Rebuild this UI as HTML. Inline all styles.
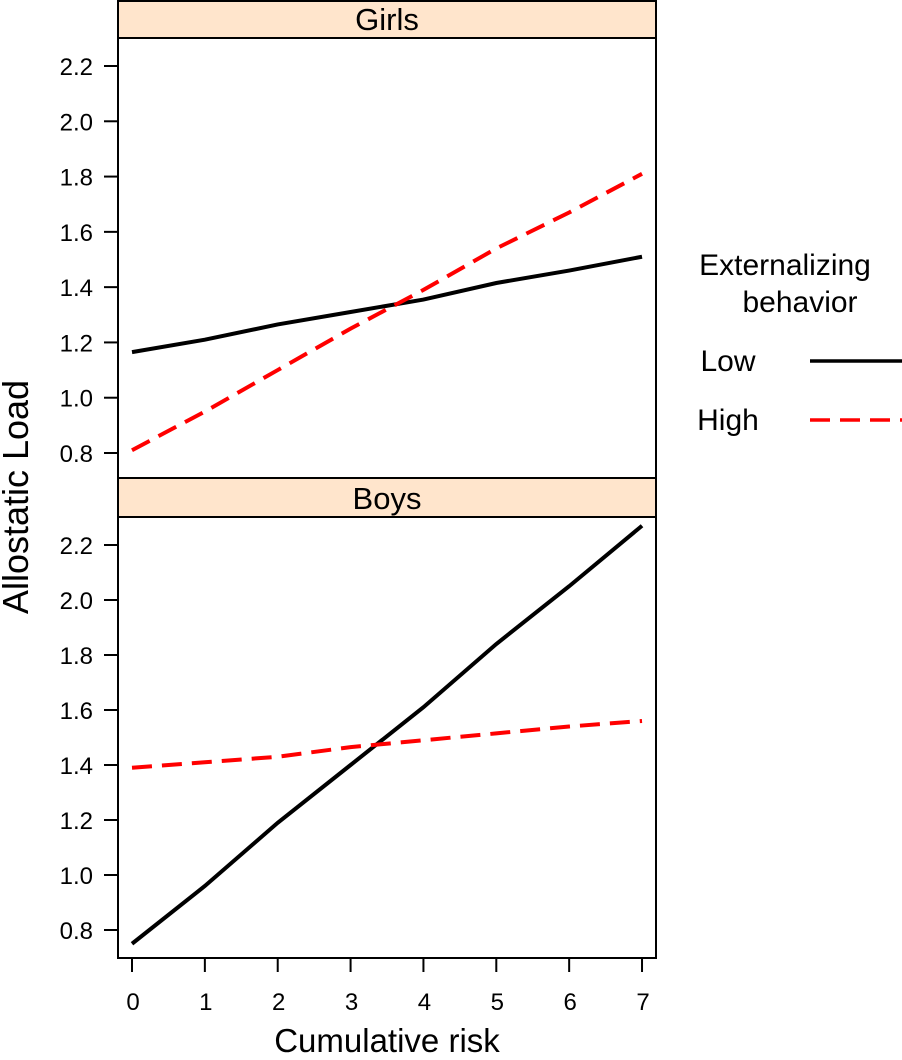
<!DOCTYPE html>
<html><head><meta charset="utf-8"><style>
body{margin:0;background:#fff}
svg text{font-family:"Liberation Sans",Arial,sans-serif;fill:#000}
</style></head><body>
<svg width="902" height="1055" viewBox="0 0 902 1055" id="c">
<text x="16" y="497" font-size="36" text-anchor="middle" transform="rotate(-90 16 497)" dy="12">Allostatic Load</text>
<text x="387" y="1052" font-size="33" text-anchor="middle">Cumulative risk</text>
<g>
<text x="785" y="275" font-size="30" text-anchor="middle">Externalizing</text>
<text x="800" y="312" font-size="30" text-anchor="middle">behavior</text>
<text x="728" y="371" font-size="30" text-anchor="middle">Low</text>
<line x1="810" y1="361" x2="902" y2="361" stroke="#000" stroke-width="3.5"/>
<text x="728" y="430" font-size="30" text-anchor="middle">High</text>
<line x1="810" y1="420" x2="902" y2="420" stroke="#f00" stroke-width="3.5" stroke-dasharray="20,10"/>
</g>
</svg>
<script>
const xVals=[0,1,2,3,4,5,6,7];
const girlsLow=[1.165,1.21,1.265,1.31,1.355,1.415,1.46,1.51];
const girlsHigh=[0.81,0.95,1.10,1.25,1.39,1.54,1.67,1.81];
const boysLow=[0.75,0.96,1.19,1.40,1.61,1.84,2.05,2.27];
const boysHigh=[1.39,1.41,1.43,1.465,1.49,1.515,1.54,1.56];
const yTicks=[0.8,1.0,1.2,1.4,1.6,1.8,2.0,2.2];
const xTicks=[0,1,2,3,4,5,6,7];
const NS='http://www.w3.org/2000/svg';
const svg=document.getElementById('c');
const L=118,R=656;
const xs=v=>132+v*72.86;
function mk(t,a,p){const e=document.createElementNS(NS,t);for(const k in a)e.setAttribute(k,a[k]);(p||svg).appendChild(e);return e;}
function panel(name,stripTop,top,bottom,y22,y08,low,high){
  const ys=v=>y08+(v-0.8)*(y22-y08)/1.4;
  const g=mk('g',{});
  
  
  const s=mk('rect',{x:L,y:stripTop,width:R-L,height:top-stripTop,fill:'#ffe5cc',stroke:'#000','stroke-width':2},g);
  
  
  const t=mk('text',{x:(L+R)/2,y:top-8,'font-size':31,'text-anchor':'middle'},g);
  t.textContent=name==='girls'?'Girls':'Boys';
  
  
  const b=mk('rect',{x:L,y:top,width:R-L,height:bottom-top,fill:'none',stroke:'#000','stroke-width':2},g);
  
  
  yTicks.forEach(v=>{const y=ys(v);
    const l=mk('line',{x1:L-14,x2:L,y1:y,y2:y,stroke:'#000','stroke-width':2},g);
    
    
    const tx=mk('text',{x:L-25,y:y+9,'font-size':24,'text-anchor':'end'},g);
    tx.textContent=v.toFixed(1);
    
    
  });
  const pl=(arr,col,dash,n)=>{const p=mk('polyline',{points:xVals.map((x,i)=>xs(x)+','+ys(arr[i])).join(' '),fill:'none',stroke:col,'stroke-width':4,'stroke-dasharray':dash},g);
    
    };
  pl(low,'#000','none',name+'-low-line');
  pl(high,'#f00','20,10',name+'-high-line');
}
panel('girls',1,38,478,66,453,girlsLow,girlsHigh);
panel('boys',478,517,958,545,930,boysLow,boysHigh);
xTicks.forEach(v=>{const x=xs(v);
  const l=mk('line',{x1:x,x2:x,y1:958,y2:972,stroke:'#000','stroke-width':2});
  
  
  const t=mk('text',{x:x+1,y:1010,'font-size':24,'text-anchor':'middle'});
  t.textContent=v;
  
  
});
</script>
</body></html>
